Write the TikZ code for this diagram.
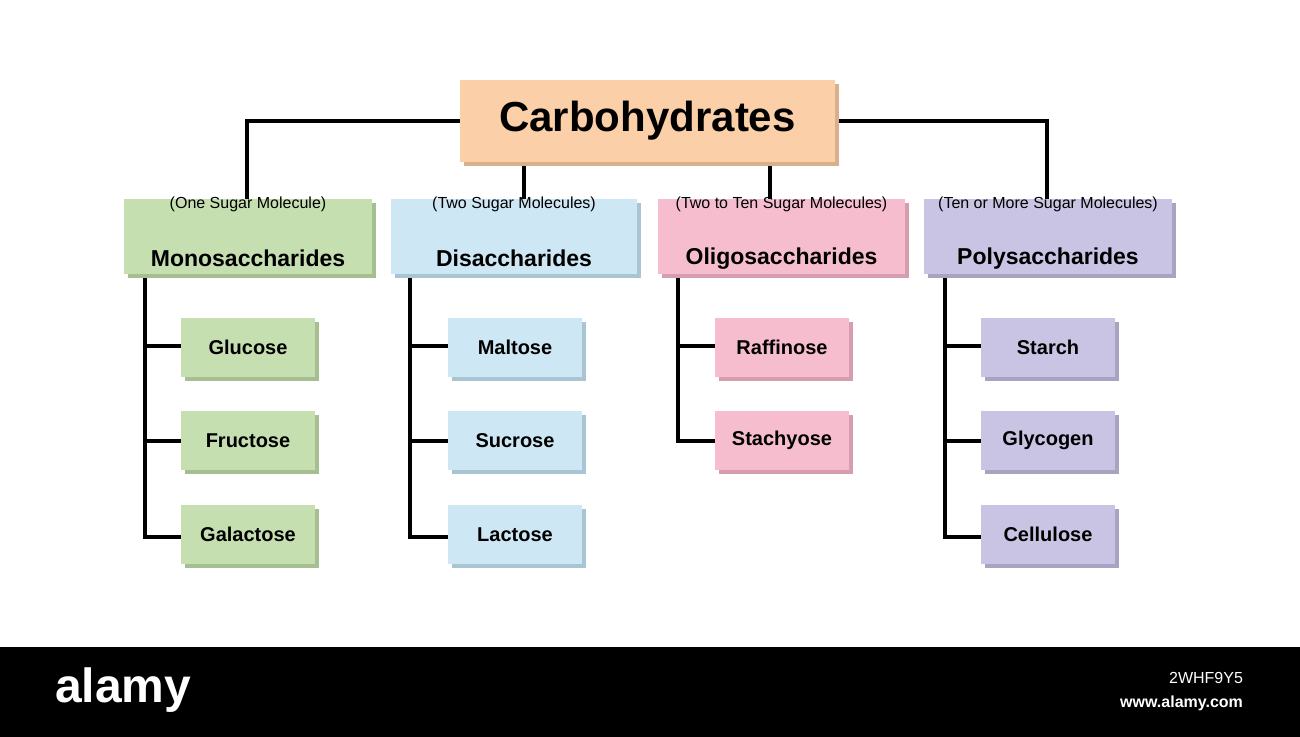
\documentclass[tikz,border=0pt]{standalone}
\usepackage{fontspec}
\setmainfont{Liberation Sans}
\definecolor{peach}{HTML}{FBD0A9}\definecolor{peachS}{HTML}{D9B08C}
\definecolor{grn}{HTML}{C6DFB1}\definecolor{grnS}{HTML}{A5BF90}
\definecolor{blu}{HTML}{CDE7F4}\definecolor{bluS}{HTML}{A9C4D2}
\definecolor{pnk}{HTML}{F6BDCF}\definecolor{pnkS}{HTML}{D69DAE}
\definecolor{pur}{HTML}{CAC4E4}\definecolor{purS}{HTML}{A9A3C2}
\tikzset{
 bx/.style n args={2}{fill=#1, draw=none, inner sep=0pt,
   postaction={}, drop/.expanded={#2}},
 drop/.style={},
 ln/.style={line width=2pt, black},
}
\newcommand{\boxat}[7]{% name,x1,y1,x2,y2,fill,shadow
 \fill[#7] (#2+4,#3+4) rectangle (#4+4,#5+4);
 \fill[#6] (#2,#3) rectangle (#4,#5);
 \coordinate (#1) at ({(#2+#4)/2},{(#3+#5)/2});
 \coordinate (#1-w) at (#2,{(#3+#5)/2});
 \coordinate (#1-n) at ({(#2+#4)/2},#3);
 \coordinate (#1-s) at ({(#2+#4)/2},#5);
}
\begin{document}
\begin{tikzpicture}[x=0.5pt,y=-0.5pt]
\useasboundingbox (0,0) rectangle (1300,737);
\fill[white] (0,0) rectangle (1300,737);
% connectors first
\coordinate (cl) at (247,121); \coordinate (cr) at (1047,121);
\draw[ln] (460,121) -- (cl) -- (247,199);
\draw[ln] (835,121) -- (cr) -- (1047,199);
\draw[ln] (524,162) -- (524,199);
\draw[ln] (770,162) -- (770,199);
\foreach \tx/\cx/\n in {145/181/3,410/448/3,945/981/3,678/715/2}{
  \ifnum\n=3 \draw[ln] (\tx,274) -- (\tx,537) -- (\cx,537);\else \draw[ln] (\tx,274) -- (\tx,441) -- (\cx,441);\fi
  \draw[ln] (\tx,346) -- (\cx,346);
  \draw[ln] (\tx,441) -- (\cx,441);
}
% boxes
\boxat{carb}{460}{80}{835}{162}{peach}{peachS}
\node[font=\bfseries\fontsize{21}{24}\selectfont] at (carb) {Carbohydrates};
\foreach \nm/\xa/\xb/\c/\t/\s in {
 mono/124/372/grn/Monosaccharides/(One Sugar Molecule),
 di/391/637/blu/Disaccharides/(Two Sugar Molecules),
 oli/658/905/pnk/Oligosaccharides/(Two to Ten Sugar Molecules),
 poly/924/1172/pur/Polysaccharides/(Ten or More Sugar Molecules)}{
 \boxat{\nm}{\xa}{199}{\xb}{274}{\c}{\c S}
 \node[font=\bfseries\fontsize{11.5}{13}\selectfont] at ([yshift=-11]\nm) {\t};
 \node[font=\fontsize{8}{10}\selectfont] at ([yshift=16]\nm) {\s};
}
\foreach \nm/\xa/\c/\y/\t in {
 g1/181/grn/318/Glucose, g2/181/grn/411/Fructose, g3/181/grn/505/Galactose,
 b1/448/blu/318/Maltose, b2/448/blu/411/Sucrose, b3/448/blu/505/Lactose,
 p1/715/pnk/318/Raffinose, p2/715/pnk/411/Stachyose,
 u1/981/pur/318/Starch, u2/981/pur/411/Glycogen, u3/981/pur/505/Cellulose}{
 \boxat{\nm}{\xa}{\y}{\xa+134}{\y+59}{\c}{\c S}
 \node[font=\bfseries\fontsize{10}{12}\selectfont] at (\nm) {\t};
}
% bottom bar
\fill[black] (0,647) rectangle (1300,737);
\node[white, font=\bfseries\fontsize{24}{26}\selectfont, anchor=west] (logo) at (48,690) {alamy};
\node[white, font=\fontsize{8}{10}\selectfont, anchor=east] (id) at (1250,678) {2WHF9Y5};
\node[white, font=\bfseries\fontsize{8}{10}\selectfont, anchor=east] (www) at (1250,703) {www.alamy.com};
\end{tikzpicture}
\end{document}
